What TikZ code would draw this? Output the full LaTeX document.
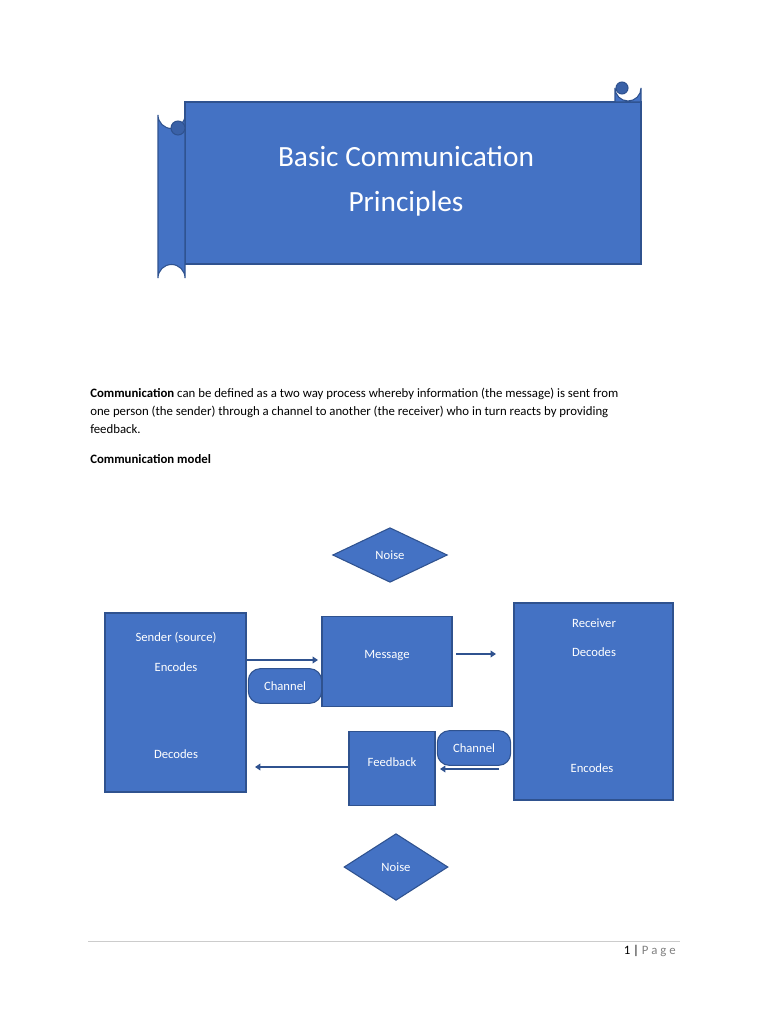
\documentclass[tikz,border=0pt]{standalone}
\usepackage{fontspec}
\setmainfont{Carlito}
\usetikzlibrary{shapes.geometric,arrows.meta}
\definecolor{boxblue}{HTML}{4472C4}
\definecolor{edgeblue}{HTML}{2F528F}
\begin{document}
\begin{tikzpicture}[x=0.75pt,y=-0.75pt]
  \tikzstyle{box}=[draw=edgeblue, fill=boxblue, line width=0.8pt]
  \tikzstyle{lbl}=[text=white, font=\fontsize{9.5}{11}\selectfont, inner sep=0pt]
  \tikzstyle{noise}=[diamond, box, aspect=2, inner sep=0pt, lbl]
  \tikzstyle{chan}=[box, rounded corners=9pt, lbl, minimum height=26pt, minimum width=55pt]
  \tikzstyle{flow}=[draw=edgeblue, line width=1.6pt, -{Triangle[length=4pt,width=5pt]}]
  \useasboundingbox (0,0) rectangle (768,1024);

  % banner
  \fill[box] (185,102) rectangle (641,264);
  \fill[box] (615,102) -- (615,88) arc (180:0:13) -- (641,102) -- cycle;
  \draw[edgeblue, line width=0.8pt, fill=boxblue!85!black] (628,88) arc (0:-180:6) arc (180:0:6) -- cycle;
  \fill[box] (158,115) arc (180:0:13.5) -- (185,278) arc (0:-180:13.5) -- cycle;
  \draw[edgeblue, line width=0.8pt, fill=boxblue!85!black] (171,128) arc (180:360:7) arc (0:180:7);
  \node[text=white, font=\fontsize{22}{26}\selectfont\scshape] (title1) at (406,156) {Basic Communication};
  \node[text=white, font=\fontsize{22}{26}\selectfont\scshape] (title2) at (406,204) {Principles};

  % text
  \node[anchor=west, align=left, inner sep=0pt, font=\fontsize{9.6}{13.6}\selectfont] (para) at (90,411)
    {\textbf{Communication} can be defined as a two way process whereby information (the message) is sent from\\
     one person (the sender) through a channel to another (the receiver) who in turn reacts by providing\\
     feedback.};
  \node[anchor=west, inner sep=0pt, font=\fontsize{9.6}{12}\selectfont\bfseries] (model) at (90,459) {Communication model};

  % model
  \node[noise, minimum width=86pt, minimum height=41pt] (noise1) at (390,555) {Noise};
  \draw[box] (105,613) rectangle (246,792);
  \node[lbl] (sender) at (176,638) {Sender (source)};
  \node[lbl] (senc) at (176,667) {Encodes};
  \node[lbl] (sdec) at (176,754) {Decodes};
  \node[box, lbl, minimum width=97.5pt, minimum height=68pt] (message) at (387,661.5) {};
  \node[lbl] at (387,656) {Message};
  \draw[box] (514,603) rectangle (673,800);
  \node[lbl] (receiver) at (594,623) {Receiver};
  \node[lbl] (rdec) at (594,652) {Decodes};
  \node[lbl] (renc) at (592,768) {Encodes};
  \node[chan] (chan1) at (285,686) {Channel};
  \node[chan] (chan2) at (474,748) {Channel};
  \node[box, lbl, minimum width=64.5pt, minimum height=56pt] (feedback) at (392,768.5) {};
  \node[lbl] at (392,762) {Feedback};
  \node[noise, minimum width=78pt, minimum height=50pt] (noise2) at (396,867) {Noise};

  \coordinate (a1) at (246,660); \coordinate (a2) at (318,660);
  \coordinate (b1) at (456,654); \coordinate (b2) at (496,654);
  \coordinate (c1) at (499,769); \coordinate (c2) at (440,769);
  \coordinate (d1) at (349,767); \coordinate (d2) at (255,767);
  \draw[flow] (a1) -- (a2);
  \draw[flow] (b1) -- (b2);
  \draw[flow] (c1) -- (c2);
  \draw[flow] (d1) -- (d2);

  % footer
  \coordinate (f1) at (88,941); \coordinate (f2) at (680,941);
  \draw[black!20, line width=0.6pt] (f1) -- (f2);
  \node[anchor=east, inner sep=0pt, font=\fontsize{9.6}{12}\selectfont] (page) at (676,951)
    {1 | \textcolor{black!50}{P a g e}};
\end{tikzpicture}
\end{document}
